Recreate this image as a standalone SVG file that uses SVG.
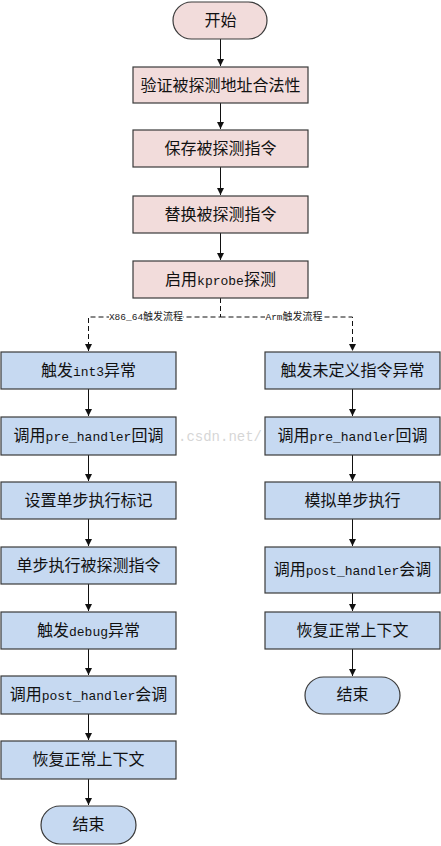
<svg xmlns="http://www.w3.org/2000/svg" width="441" height="846" viewBox="0 0 441 846">
<style>
.bg{fill:#ffffff}
.p{fill:#f2dcdb;stroke:#3a3a3a;stroke-width:1.2}
.b{fill:#c6d9f1;stroke:#3a3a3a;stroke-width:1.2}
.t{font-family:"Noto Sans CJK SC","Liberation Sans",sans-serif;font-size:16px;fill:#111;text-anchor:middle}
.m{font-family:"Liberation Mono",monospace;font-size:13px}
.c{stroke:#111;stroke-width:1;fill:none}
.d{stroke:#111;stroke-width:1;fill:none;stroke-dasharray:5,3}
.lb{font-family:"Noto Sans CJK SC","Liberation Sans",sans-serif;font-size:10px;fill:#222;text-anchor:middle}
.lm{font-family:"Liberation Mono",monospace;font-size:9.5px}
.wm{font-family:"Liberation Mono",monospace;font-size:14px;fill:#9a9a9a;opacity:0.4}
</style>
<defs>
<marker id="ah" markerWidth="8" markerHeight="8" refX="7" refY="4" orient="auto" markerUnits="userSpaceOnUse">
<path d="M0,0.5 L7,4 L0,7.5 Z" fill="#111"/>
</marker>
</defs>
<rect class="bg" x="0" y="0" width="441" height="846"/>
<text class="wm" x="178" y="441">.csdn.net/</text>
<g id="connectors">
<path class="c" d="M220.5,39 V66" marker-end="url(#ah)"/>
<path class="c" d="M220.5,103 V129" marker-end="url(#ah)"/>
<path class="c" d="M220.5,167 V195" marker-end="url(#ah)"/>
<path class="c" d="M220.5,233 V260" marker-end="url(#ah)"/>
<path class="d" d="M220.5,298 V317 H88.5 V351" marker-end="url(#ah)"/>
<path class="d" d="M220.5,317 H352.5 V351" marker-end="url(#ah)"/>
<path class="c" d="M88.5,389 V416" marker-end="url(#ah)"/>
<path class="c" d="M88.5,455 V481" marker-end="url(#ah)"/>
<path class="c" d="M88.5,519 V546" marker-end="url(#ah)"/>
<path class="c" d="M88.5,584 V611" marker-end="url(#ah)"/>
<path class="c" d="M88.5,649 V675" marker-end="url(#ah)"/>
<path class="c" d="M88.5,714 V740" marker-end="url(#ah)"/>
<path class="c" d="M88.5,779 V805" marker-end="url(#ah)"/>
<path class="c" d="M352.5,389 V416" marker-end="url(#ah)"/>
<path class="c" d="M352.5,455 V481" marker-end="url(#ah)"/>
<path class="c" d="M352.5,519 V546" marker-end="url(#ah)"/>
<path class="c" d="M352.5,593 V611" marker-end="url(#ah)"/>
<path class="c" d="M352.5,649 V676" marker-end="url(#ah)"/>
<rect x="109" y="311" width="74" height="12" fill="#fff"/>
<text class="lb" x="146" y="320"><tspan class="lm">X86_64</tspan>触发流程</text>
<rect x="265" y="311" width="58" height="12" fill="#fff"/>
<text class="lb" x="294" y="320"><tspan class="lm">Arm</tspan>触发流程</text>
</g>
<g id="start"><rect class="p" x="173" y="2" width="94" height="37" rx="18.5"/><text class="t" x="220.5" y="26">开始</text></g>
<g id="n1"><rect class="p" x="133" y="67" width="175" height="36"/><text class="t" x="220.5" y="91">验证被探测地址合法性</text></g>
<g id="n2"><rect class="p" x="133" y="130" width="175" height="37"/><text class="t" x="220.5" y="154">保存被探测指令</text></g>
<g id="n3"><rect class="p" x="133" y="196" width="175" height="37"/><text class="t" x="220.5" y="220">替换被探测指令</text></g>
<g id="n4"><rect class="p" x="133" y="261" width="175" height="37"/><text class="t" x="220.5" y="285">启用<tspan class="m">kprobe</tspan>探测</text></g>
<g id="l1"><rect class="b" x="1" y="352" width="175" height="37"/><text class="t" x="88.5" y="376">触发<tspan class="m">int3</tspan>异常</text></g>
<g id="l2"><rect class="b" x="1" y="417" width="175" height="38"/><text class="t" x="88.5" y="441">调用<tspan class="m">pre_handler</tspan>回调</text></g>
<g id="l3"><rect class="b" x="1" y="482" width="175" height="37"/><text class="t" x="88.5" y="506">设置单步执行标记</text></g>
<g id="l4"><rect class="b" x="1" y="547" width="175" height="37"/><text class="t" x="88.5" y="571">单步执行被探测指令</text></g>
<g id="l5"><rect class="b" x="1" y="612" width="175" height="37"/><text class="t" x="88.5" y="636">触发<tspan class="m">debug</tspan>异常</text></g>
<g id="l6"><rect class="b" x="1" y="676" width="175" height="38"/><text class="t" x="88.5" y="700">调用<tspan class="m">post_handler</tspan>会调</text></g>
<g id="l7"><rect class="b" x="1" y="741" width="175" height="38"/><text class="t" x="88.5" y="765">恢复正常上下文</text></g>
<g id="lend"><rect class="b" x="41" y="806" width="95" height="38" rx="19"/><text class="t" x="88.5" y="830">结束</text></g>
<g id="r1"><rect class="b" x="265" y="352" width="175" height="37"/><text class="t" x="352.5" y="376">触发未定义指令异常</text></g>
<g id="r2"><rect class="b" x="265" y="417" width="175" height="38"/><text class="t" x="352.5" y="441">调用<tspan class="m">pre_handler</tspan>回调</text></g>
<g id="r3"><rect class="b" x="265" y="482" width="175" height="37"/><text class="t" x="352.5" y="506">模拟单步执行</text></g>
<g id="r4"><rect class="b" x="265" y="547" width="175" height="46"/><text class="t" x="352.5" y="575">调用<tspan class="m">post_handler</tspan>会调</text></g>
<g id="r5"><rect class="b" x="265" y="612" width="175" height="37"/><text class="t" x="352.5" y="636">恢复正常上下文</text></g>
<g id="rend"><rect class="b" x="305" y="677" width="95" height="37" rx="18.5"/><text class="t" x="352.5" y="700">结束</text></g>
</svg>
